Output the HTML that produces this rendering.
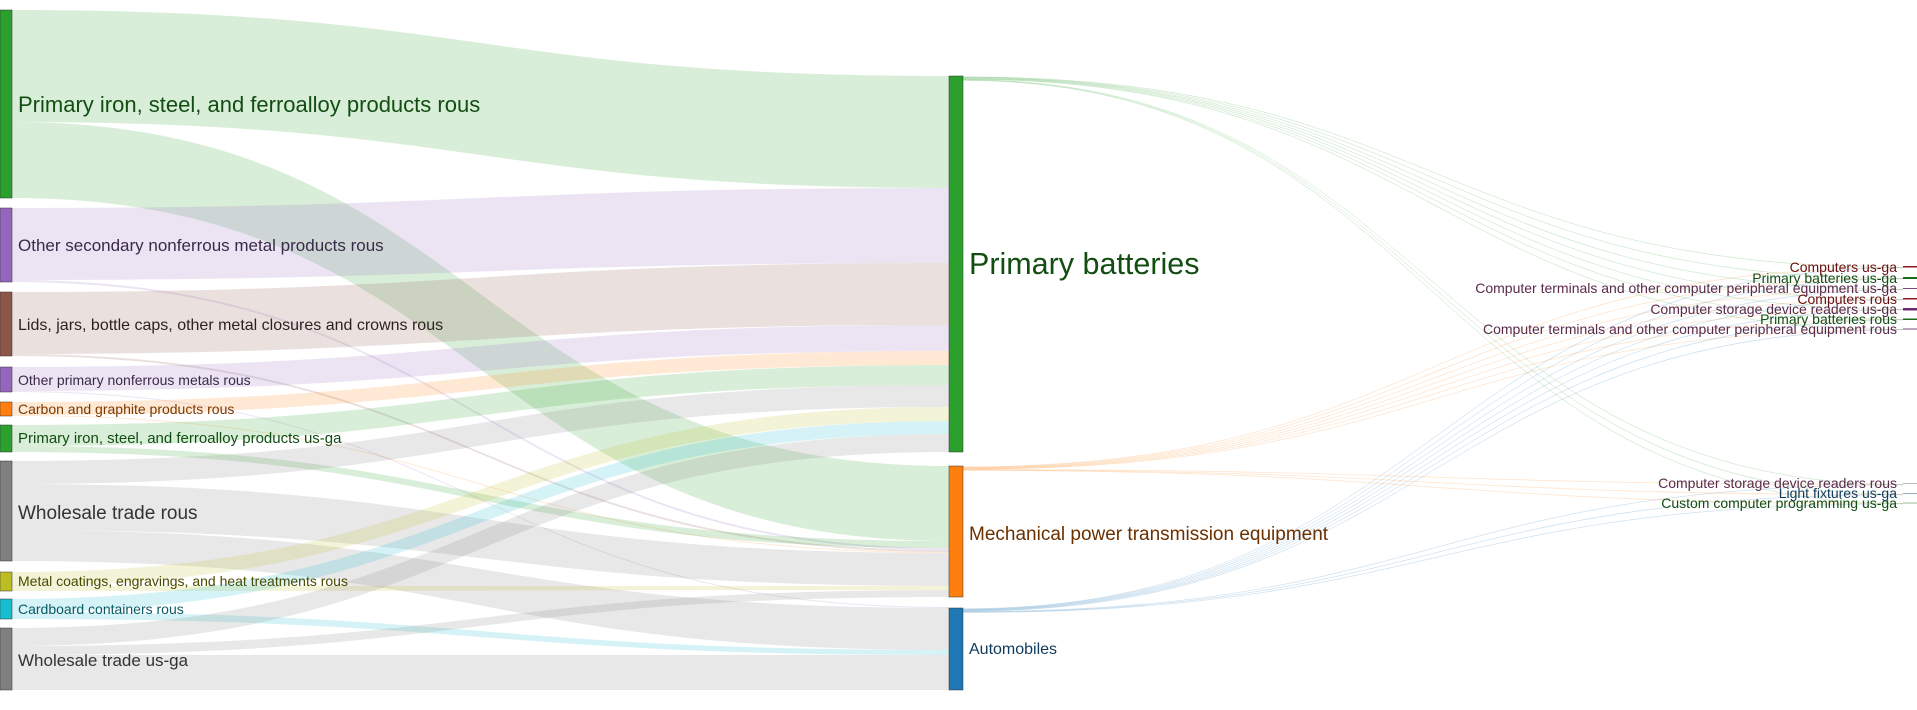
<!DOCTYPE html>
<html><head><meta charset="utf-8"><style>
html,body{margin:0;padding:0;background:#fff;}
svg{display:block;font-family:"Liberation Sans",Arial,sans-serif;}
</style></head><body>
<svg id="s" width="1917" height="710" viewBox="0 0 1917 710">
<g id="links"></g>
<g id="nodes">
<rect x="0" y="10" width="12" height="188" fill="#2ca02c" stroke="#333" stroke-width="0.5"/>
<rect x="0" y="208" width="12" height="74" fill="#9467bd" stroke="#333" stroke-width="0.5"/>
<rect x="0" y="292" width="12" height="64" fill="#8c564b" stroke="#333" stroke-width="0.5"/>
<rect x="0" y="367" width="12" height="25" fill="#9467bd" stroke="#333" stroke-width="0.5"/>
<rect x="0" y="402" width="12" height="14" fill="#ff7f0e" stroke="#333" stroke-width="0.5"/>
<rect x="0" y="425" width="12" height="27" fill="#2ca02c" stroke="#333" stroke-width="0.5"/>
<rect x="0" y="461" width="12" height="100" fill="#7f7f7f" stroke="#333" stroke-width="0.5"/>
<rect x="0" y="572" width="12" height="19" fill="#bcbd22" stroke="#333" stroke-width="0.5"/>
<rect x="0" y="599" width="12" height="20" fill="#17becf" stroke="#333" stroke-width="0.5"/>
<rect x="0" y="628" width="12" height="62" fill="#7f7f7f" stroke="#333" stroke-width="0.5"/>
<rect x="949" y="76" width="14" height="376" fill="#2ca02c" stroke="#333" stroke-width="0.5"/>
<rect x="949" y="466" width="14" height="131" fill="#ff7f0e" stroke="#333" stroke-width="0.5"/>
<rect x="949" y="608" width="14" height="82" fill="#1f77b4" stroke="#333" stroke-width="0.5"/>
<rect x="1903" y="266" width="14" height="1.5" fill="#8b1a1a"/>
<rect x="1903" y="277" width="14" height="2" fill="#1a6b1a"/>
<rect x="1903" y="288" width="14" height="1" fill="#7a4a7a"/>
<rect x="1903" y="298" width="14" height="1.5" fill="#8b1a1a"/>
<rect x="1903" y="308" width="14" height="2.5" fill="#6b2a6b"/>
<rect x="1903" y="318.5" width="14" height="1.5" fill="#1a6b1a"/>
<rect x="1903" y="328.5" width="14" height="1" fill="#7a4a7a"/>
<rect x="1903" y="483" width="14" height="1" fill="#bbb"/>
<rect x="1903" y="493" width="14" height="1" fill="#9ab"/>
<rect x="1903" y="502.5" width="14" height="1" fill="#9b9"/>
</g>
<g id="labels" font-family="Liberation Sans, Arial, sans-serif">
<text x="18" y="112" font-size="22" fill="#124d12">Primary iron, steel, and ferroalloy products rous</text>
<text x="18" y="251" font-size="17" fill="#3a2a4a">Other secondary nonferrous metal products rous</text>
<text x="18" y="330" font-size="16" fill="#2e2220">Lids, jars, bottle caps, other metal closures and crowns rous</text>
<text x="18" y="385" font-size="14" fill="#3a2a4a">Other primary nonferrous metals rous</text>
<text x="18" y="414" font-size="14" fill="#7a3a00">Carbon and graphite products rous</text>
<text x="18" y="443" font-size="15" fill="#124d12">Primary iron, steel, and ferroalloy products us-ga</text>
<text x="18" y="519" font-size="19" fill="#333">Wholesale trade rous</text>
<text x="18" y="586" font-size="14" fill="#4a4a00">Metal coatings, engravings, and heat treatments rous</text>
<text x="18" y="614" font-size="14" fill="#0a5a66">Cardboard containers rous</text>
<text x="18" y="666" font-size="17" fill="#333">Wholesale trade us-ga</text>
<text x="969" y="274" font-size="30.5" fill="#124d12">Primary batteries</text>
<text x="969" y="540" font-size="19" fill="#6b3000">Mechanical power transmission equipment</text>
<text x="969" y="654" font-size="16" fill="#0f3a5c">Automobiles</text>
<g font-size="14" text-anchor="end">
<text x="1897" y="272" fill="#6b1010">Computers us-ga</text>
<text x="1897" y="283" fill="#124d12">Primary batteries us-ga</text>
<text x="1897" y="293" fill="#5a2a4a">Computer terminals and other computer peripheral equipment us-ga</text>
<text x="1897" y="304" fill="#6b1010">Computers rous</text>
<text x="1897" y="314" fill="#5a2a4a">Computer storage device readers us-ga</text>
<text x="1897" y="324" fill="#124d12">Primary batteries rous</text>
<text x="1897" y="334" fill="#5a2a4a">Computer terminals and other computer peripheral equipment rous</text>
<text x="1897" y="488" fill="#5a2a4a">Computer storage device readers rous</text>
<text x="1897" y="498" fill="#0f3a5c">Light fixtures us-ga</text>
<text x="1897" y="508" fill="#124d12">Custom computer programming us-ga</text>
</g>
</g>
</svg>
<script>
var g=document.getElementById('links');
function band(x0,a0,b0,x1,a1,b1,c,o){
 var m=(x0+x1)/2;
 var d='M'+x0+','+a0+'C'+m+','+a0+' '+m+','+a1+' '+x1+','+a1+'L'+x1+','+b1+'C'+m+','+b1+' '+m+','+b0+' '+x0+','+b0+'Z';
 var p=document.createElementNS('http://www.w3.org/2000/svg','path');
 p.setAttribute('d',d);p.setAttribute('fill',c);p.setAttribute('fill-opacity',o||0.18);
 g.appendChild(p);
}
var G='#2ca02c',P='#9467bd',B='#8c564b',O='#ff7f0e',Y='#7f7f7f',L='#bcbd22',C='#17becf',U='#1f77b4';
var X0=12,X1=949;
band(X0,10,122,X1,76,188,G);
band(X0,122,198,X1,466,541,G);
band(X0,208,280,X1,188,263,P);
band(X0,280,282,X1,548,550,P);
band(X0,292,354,X1,263,325,B);
band(X0,354,356,X1,550,552,B);
band(X0,367,391,X1,325,351,P);
band(X0,391,392,X1,607,608,P);
band(X0,402,415,X1,351,365,O);
band(X0,415,416,X1,552,553,O);
band(X0,425,446,X1,365,385,G);
band(X0,446,452,X1,541,548,G);
band(X0,461,484,X1,385,407,Y);
band(X0,484,530,X1,553,586,Y);
band(X0,530,561,X1,608,650,Y);
band(X0,572,586,X1,407,421,L);
band(X0,586,591,X1,586,590,L);
band(X0,599,612,X1,421,434,C);
band(X0,612,619,X1,650,655,C);
band(X0,628,646,X1,434,452,Y);
band(X0,646,655,X1,590,597,Y);
band(X0,655,690,X1,655,690,Y);
var X2=1903,Xm=963;
var tg=[267,278,289,299,309,319,329,484,494,503];
tg.forEach(function(t,i){
 band(Xm,76.5+i*0.4,77.2+i*0.4,X2,t,t+0.8,G,0.22);
 band(Xm,466.5+i*0.4,467.2+i*0.4,X2,t+0.2,t+1,O,0.22);
 band(Xm,608.5+i*0.4,609.2+i*0.4,X2,t+0.4,t+1.2,U,0.22);
});
</script>
</body></html>
